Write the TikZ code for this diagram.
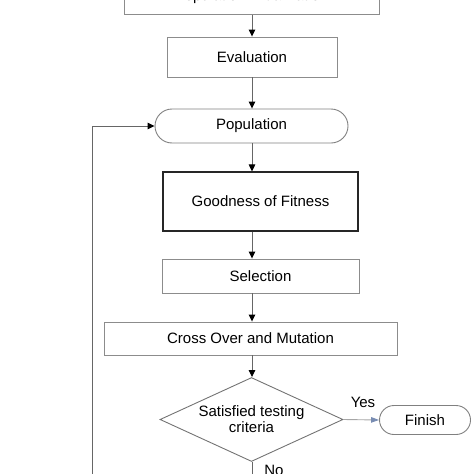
\documentclass[tikz,border=0pt]{standalone}
\usepackage{fontspec}
\setmainfont{Liberation Sans}
\usetikzlibrary{shapes.geometric,arrows.meta}
\definecolor{yestip}{RGB}{120,140,178}

\begin{document}
\begin{tikzpicture}[x=1pt,y=-1pt,
  font=\fontsize{15}{18}\selectfont,
  box/.style={draw=black!45, line width=0.9pt, inner sep=0pt},
  terminal/.style={draw=black!50, line width=0.9pt, inner sep=0pt},
  decision/.style={diamond, draw=black!55, line width=0.9pt, aspect=2.2, inner sep=0pt,
    minimum width=183pt, minimum height=84pt, align=center, font=\fontsize{15}{16}\selectfont},
  flow/.style={draw=black!60, line width=0.9pt, -{Triangle[black,length=7pt,width=6.5pt]}},
  yesflow/.style={draw=black!35, line width=0.9pt, -{Triangle[yestip,length=8pt,width=5.5pt]}}]

\useasboundingbox (0,0) rectangle (474,474);
\clip (0,0) rectangle (474,474);

\coordinate (axis) at (252,0);

\node[box, minimum width=255pt, minimum height=36pt] (init) at (251.5,-3.5) {Population Initialization};
\node[box, minimum width=170pt, minimum height=40pt] (eval) at (252,57) {Evaluation};
\node[terminal, minimum width=193pt, minimum height=34pt, rounded corners=17pt] (pop) at (251.5,126) {Population};
\node[box, draw=black!85, line width=1.1pt, minimum width=195pt, minimum height=59pt] (good) at (260.5,201.5) {Goodness of Fitness};
\node[box, minimum width=197pt, minimum height=34pt] (sel) at (260.5,276) {Selection};
\node[box, minimum width=293pt, minimum height=33pt] (cross) at (250.5,338.5) {Cross Over and Mutation};
\node[decision] (test) at (251.5,419.5) {Satisfied testing\\criteria};
\node[terminal, minimum width=91pt, minimum height=29pt, rounded corners=14.5pt] (fin) at (425,420) {Finish};

\node (yes) at (363,402) {Yes};
\node (no) at (274,470) {No};

\draw[flow] (init.south -| axis) -- (eval.north -| axis);
\draw[flow] (eval.south -| axis) -- (pop.north -| axis);
\draw[flow] (pop.south -| axis) -- (good.north -| axis);
\draw[flow] (good.south -| axis) -- (sel.north -| axis);
\draw[flow] (sel.south -| axis) -- (cross.north -| axis);
\draw[flow] (cross.south -| axis) -- (test.north -| axis);
\draw[yesflow] (test.east) -- (fin.west);

% loop back from No
\coordinate (nobottom) at (252,490);
\coordinate (loopcorner) at (92,490);
\draw[flow] (test.south -| axis) -- (nobottom) -- (loopcorner) |- (pop.west);
\end{tikzpicture}
\end{document}
